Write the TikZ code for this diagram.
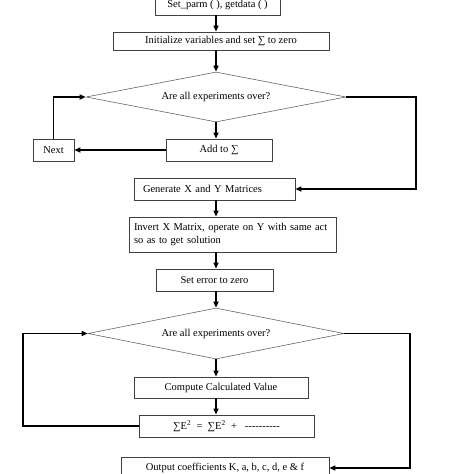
\documentclass[tikz,border=0pt]{standalone}
\usepackage{fontspec}
\setmainfont{Liberation Serif}
\usetikzlibrary{shapes.geometric, arrows.meta}

\tikzset{
  procbox/.style={draw=black!75, line width=0.8pt, fill=white, inner sep=0pt,
    minimum height=21pt, font=\fontsize{10.5}{12.5}\selectfont},
  leftbox/.style={procbox, align=left, text width=#1},
  decide/.style={draw=black!60, line width=0.6pt, diamond, aspect=5.2, inner sep=0pt,
    minimum width=260pt, minimum height=50pt, font=\fontsize{10.5}{12.5}\selectfont},
  flow/.style={line width=1.6pt, -{Triangle[length=6pt,width=5pt]}}
}

\begin{document}
\begin{tikzpicture}[x=1pt, y=-1pt]
\useasboundingbox (0,0) rectangle (474,474);

% helper columns for the spine and the two loops on each side
\coordinate (spine) at (216,0);
\coordinate (r1) at (416,0);
\coordinate (r2) at (410,0);
\coordinate (l2) at (23,0);

% main column
\node[procbox, minimum width=125pt] (setparm) at (217.5,4.5) {Set\_parm ( ), getdata ( )};
\node[procbox, minimum width=216pt, minimum height=18pt] (init) at (221,41) {Initialize variables and set ∑ to zero};
\node[decide] (over1) at (216,97) {Are all experiments over?};
\node[procbox, minimum width=106pt, minimum height=22pt] (add) at (219,150) {Add to ∑};
\node[procbox, minimum width=41pt, minimum height=22pt] (next) at (53.5,150) {Next};
\node[leftbox=143pt, minimum width=161pt, minimum height=22pt] (genmat) at (214.5,189) {Generate X and Y Matrices};
\node[leftbox=197pt, minimum width=207pt, minimum height=35pt] (invert) at (232.5,234.5)
  {Invert X Matrix, operate on Y with same act\\so as to get solution};
\node[procbox, minimum width=117pt, minimum height=22pt] (seterr) at (214.5,280) {Set error to zero};
\node[decide, minimum width=256pt, minimum height=51pt] (over2) at (216,333.5) {Are all experiments over?};
\node[procbox, minimum width=174pt] (compute) at (221,387.5) {Compute Calculated Value};
\node[procbox, minimum width=175pt, minimum height=22pt] (sumerr) at (226.5,426)
  {∑E\textsuperscript{2}\ \ =\ \ ∑E\textsuperscript{2}\ \ +\ \ \ -{}-{}-{}-{}-{}-{}-{}-{}-{}-};
\node[procbox, minimum width=208pt, minimum height=22pt] (output) at (225,468) {Output coefficients K, a, b, c, d, e \& f};

% straight arrows down the spine
\foreach \a/\b in {setparm/init, init/over1, over1/add, genmat/invert, invert/seterr,
                   seterr/over2, over2/compute, compute/sumerr}
  \draw[flow] (\a.south -| spine) -- (\b.north -| spine);

% first loop
\draw[flow] (add.west) -- (next.east);
\draw[flow] (next.north) |- (over1.west);
\draw[flow] (over1.east) -- (over1.east -| r1) |- (genmat.east);

% second loop
\draw[flow] (sumerr.west) -- (sumerr.west -| l2) |- (over2.west);
\draw[flow] (over2.east) -- (over2.east -| r2) |- (output.east);
\end{tikzpicture}
\end{document}
